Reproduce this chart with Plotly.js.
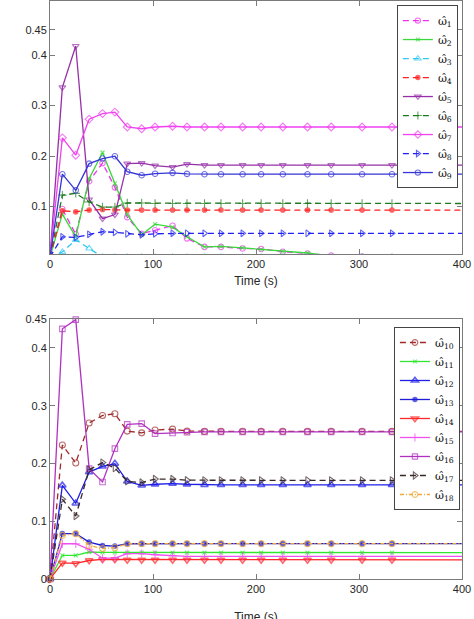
<!DOCTYPE html>
<html>
<head>
<meta charset="utf-8">
<script src="https://cdn.plot.ly/plotly-3.0.1.min.js"></script>
<style>html,body{margin:0;padding:0;background:#fff;overflow:hidden;}#chart{width:474px;height:640px;}</style>
</head>
<body>
<div id="chart"></div>
<script>
// time samples (s)
const time = [0, 12, 25, 38, 51, 63, 75, 89, 102, 119, 133, 150, 166, 187, 205, 226, 250, 273, 303, 332, 400];

// top panel series
const w1 = [0, 0.095, 0.045, 0.150, 0.186, 0.138, 0.079, 0.046, 0.053, 0.062, 0.037, 0.020, 0.020, 0.017, 0.016, 0.0105, 0.007, 0.003, 0.001, 0, 0];
const w2 = [0, 0.085, 0.040, 0.155, 0.207, 0.146, 0.084, 0.044, 0.065, 0.059, 0.040, 0.020, 0.021, 0.018, 0.015, 0.011, 0.008, 0.002, 0, 0, 0];
const w3 = [0, 0.010, 0.034, 0.017, 0, 0, 0, 0, 0, 0, 0, 0, 0, 0, 0, 0, 0, 0, 0, 0, 0];
const w4 = [0, 0.0915, 0.0895, 0.093, 0.094, 0.093, 0.093, 0.093, 0.093, 0.093, 0.093, 0.093, 0.093, 0.093, 0.093, 0.093, 0.093, 0.093, 0.093, 0.093, 0.093];
const w5 = [0, 0.336, 0.418, 0.114, 0.076, 0.084, 0.185, 0.186, 0.181, 0.178, 0.184, 0.182, 0.182, 0.182, 0.182, 0.182, 0.182, 0.182, 0.182, 0.182, 0.182];
const w6 = [0, 0.1225, 0.126, 0.109, 0.099, 0.099, 0.107, 0.107, 0.106, 0.106, 0.106, 0.106, 0.106, 0.106, 0.106, 0.106, 0.106, 0.106, 0.106, 0.106, 0.106];
const w7 = [0, 0.236, 0.2016, 0.273, 0.284, 0.287, 0.2575, 0.254, 0.2575, 0.259, 0.2575, 0.2575, 0.2575, 0.2575, 0.2575, 0.2575, 0.2575, 0.2575, 0.2575, 0.2575, 0.2575];
const w8 = [0, 0.040, 0.039, 0.045, 0.050, 0.049, 0.046, 0.044, 0.046, 0.047, 0.047, 0.047, 0.047, 0.047, 0.047, 0.047, 0.047, 0.047, 0.047, 0.047, 0.047];
const w9 = [0, 0.164, 0.132, 0.185, 0.195, 0.1996, 0.169, 0.162, 0.165, 0.1667, 0.1647, 0.164, 0.164, 0.164, 0.164, 0.164, 0.164, 0.164, 0.164, 0.164, 0.164];

// bottom panel series
const w10 = [0, 0.232, 0.2007, 0.270, 0.283, 0.286, 0.256, 0.253, 0.258, 0.2595, 0.256, 0.2555, 0.2555, 0.2555, 0.2555, 0.2555, 0.2555, 0.2555, 0.2555, 0.2555, 0.2555];
const w11 = [0, 0.041, 0.041, 0.0467, 0.046, 0.046, 0.0456, 0.0456, 0.0456, 0.0456, 0.0456, 0.0456, 0.0456, 0.0456, 0.0456, 0.0456, 0.0456, 0.0456, 0.0456, 0.0456, 0.0456];
const w12 = [0, 0.162, 0.131, 0.185, 0.195, 0.1997, 0.169, 0.162, 0.164, 0.165, 0.164, 0.163, 0.163, 0.163, 0.163, 0.163, 0.163, 0.163, 0.163, 0.163, 0.163];
const w13 = [0, 0.0785, 0.0785, 0.064, 0.058, 0.057, 0.061, 0.0612, 0.0612, 0.0612, 0.0612, 0.0612, 0.0612, 0.0612, 0.0612, 0.0612, 0.0612, 0.0612, 0.0612, 0.0612, 0.0612];
const w14 = [0, 0.028, 0.027, 0.032, 0.034, 0.034, 0.033, 0.033, 0.033, 0.033, 0.033, 0.033, 0.033, 0.033, 0.033, 0.033, 0.033, 0.033, 0.033, 0.033, 0.033];
const w15 = [0, 0.061, 0.061, 0.0514, 0.036, 0.036, 0.044, 0.044, 0.042, 0.040, 0.039, 0.039, 0.039, 0.039, 0.039, 0.039, 0.039, 0.039, 0.039, 0.039, 0.039];
const w16 = [0, 0.433, 0.449, 0.191, 0.168, 0.2256, 0.2677, 0.269, 0.2516, 0.2527, 0.254, 0.2545, 0.2545, 0.2545, 0.2545, 0.2545, 0.2545, 0.2545, 0.2545, 0.2545, 0.2545];
const w17 = [0, 0.138, 0.109, 0.189, 0.2015, 0.192, 0.169, 0.167, 0.173, 0.173, 0.171, 0.1708, 0.1708, 0.1708, 0.1708, 0.1708, 0.1708, 0.1708, 0.1708, 0.1708, 0.1708];
const w18 = [0, 0.0756, 0.0785, 0.058, 0.0526, 0.0545, 0.061, 0.0612, 0.0612, 0.0612, 0.0612, 0.0612, 0.0612, 0.0612, 0.0612, 0.0612, 0.0612, 0.0612, 0.0612, 0.0612, 0.0612];

const topNames = ['1','2','3','4','5','6','7','8','9'];
const botNames = ['10','11','12','13','14','15','16','17','18'];
const xTicks = [0, 100, 200, 300, 400];
const yTicksTop = [0.1, 0.2, 0.3, 0.4, 0.45];
const yTicksBot = [0, 0.1, 0.2, 0.3, 0.4, 0.45];
const yTickTextTop = ['0.1', '0.2', '0.3', '0.4', '0.45'];
const yTickTextBot = ['0', '0.1', '0.2', '0.3', '0.4', '0.45'];

// marker on every sample except the final end-of-line sample
const msize = (s) => time.map((t, i) => i === time.length - 1 ? 0 : s);

function tr(y, name, color, dash, symbol, size, axis, legend, extra) {
  const o = {
    x: time, y: y, type: 'scatter', mode: 'lines+markers',
    name: 'ω̂<sub>' + name + '</sub>',
    line: {color: color, width: 1.3, dash: dash},
    marker: {symbol: symbol, size: msize(size), color: color, line: {color: color, width: 1.1}},
    xaxis: axis === 1 ? 'x' : 'x2', yaxis: axis === 1 ? 'y' : 'y2',
    legend: legend, cliponaxis: axis === 1
  };
  if (extra) Object.assign(o.marker, extra);
  return o;
}
const DASH = '6px,4px';
const data = [
  tr(w1, topNames[0], '#f030f0', DASH, 'circle-open', 5.5, 1, 'legend'),
  tr(w2, topNames[1], '#3ad83a', 'solid', 'x-thin-open', 4, 1, 'legend'),
  tr(w3, topNames[2], '#30c8f0', DASH, 'triangle-up-open', 6, 1, 'legend'),
  tr(w4, topNames[3], '#ff2020', DASH, 'circle', 4.5, 1, 'legend'),
  tr(w5, topNames[4], '#9630a8', 'solid', 'triangle-down-open', 6, 1, 'legend'),
  tr(w6, topNames[5], '#1c7a1c', DASH, 'cross-thin-open', 6, 1, 'legend'),
  tr(w7, topNames[6], '#f040f0', 'solid', 'diamond-open', 6, 1, 'legend'),
  tr(w8, topNames[7], '#2020f0', DASH, 'triangle-right-open', 6, 1, 'legend'),
  tr(w9, topNames[8], '#3535d8', 'solid', 'circle-open', 5.5, 1, 'legend'),

  tr(w10, botNames[0], '#a02a2a', DASH, 'circle-open', 6, 2, 'legend2'),
  tr(w11, botNames[1], '#30e830', 'solid', 'x-thin-open', 4, 2, 'legend2'),
  tr(w12, botNames[2], '#1e1ee8', 'solid', 'triangle-up-open', 6.5, 2, 'legend2', {line: {color: '#1e1ee8', width: 1.6}}),
  tr(w13, botNames[3], '#1e1ed8', 'solid', 'circle', 4.5, 2, 'legend2'),
  tr(w14, botNames[4], '#ff2828', 'solid', 'triangle-down-open', 6.5, 2, 'legend2', {line: {color: '#ff2828', width: 1.6}}),
  tr(w15, botNames[5], '#f050f0', 'solid', 'cross-thin-open', 6, 2, 'legend2'),
  tr(w16, botNames[6], '#b030c0', 'solid', 'square-open', 5.5, 2, 'legend2'),
  tr(w17, botNames[7], '#3a2828', DASH, 'triangle-right-open', 6.5, 2, 'legend2'),
  tr(w18, botNames[8], '#f0a838', '4px,2px,1px,2px', 'circle-open', 6, 2, 'legend2')
];

const axisCommon = {
  showline: true, linecolor: '#7a7a7a', linewidth: 1, mirror: 'ticks',
  ticks: 'inside', ticklen: 5, tickcolor: '#7a7a7a', tickwidth: 1,
  showgrid: false, zeroline: false,
  tickfont: {family: 'Liberation Sans, Arial, sans-serif', size: 11, color: '#262626'}
};
const legendCommon = {
  bgcolor: '#ffffff', bordercolor: '#444444', borderwidth: 1,
  font: {family: 'DejaVu Serif, serif', size: 11, color: '#111'},
  xanchor: 'right', yanchor: 'top', tracegroupgap: 0, itemwidth: 30
};

const layout = {
  width: 474, height: 640,
  margin: {l: 50, r: 12, t: 1, b: 61},
  paper_bgcolor: '#ffffff', plot_bgcolor: '#ffffff',
  showlegend: true,
  xaxis: Object.assign({}, axisCommon, {
    domain: [0, 1], anchor: 'y', range: [0, 400], tickvals: xTicks,
    title: {text: 'Time (s)', font: {family: 'Liberation Sans, Arial, sans-serif', size: 12, color: '#262626'}, standoff: 7}
  }),
  yaxis: Object.assign({}, axisCommon, {
    domain: [0.5623, 1], anchor: 'x', range: [0.006, 0.507],
    tickvals: yTicksTop, ticktext: yTickTextTop
  }),
  xaxis2: Object.assign({}, axisCommon, {
    domain: [0, 1], anchor: 'y2', range: [0, 400], tickvals: xTicks,
    title: {text: 'Time (s)', font: {family: 'Liberation Sans, Arial, sans-serif', size: 12, color: '#262626'}, standoff: 18}
  }),
  yaxis2: Object.assign({}, axisCommon, {
    domain: [0, 0.4498], anchor: 'x2', range: [0, 0.45],
    tickvals: yTicksBot, ticktext: yTickTextBot
  }),
  legend: Object.assign({}, legendCommon, {x: 0.99, y: 0.993}),
  legend2: Object.assign({}, legendCommon, {x: 0.995, y: 0.436})
};

Plotly.newPlot('chart', data, layout, {displayModeBar: false, staticPlot: true});
</script>
</body>
</html>
